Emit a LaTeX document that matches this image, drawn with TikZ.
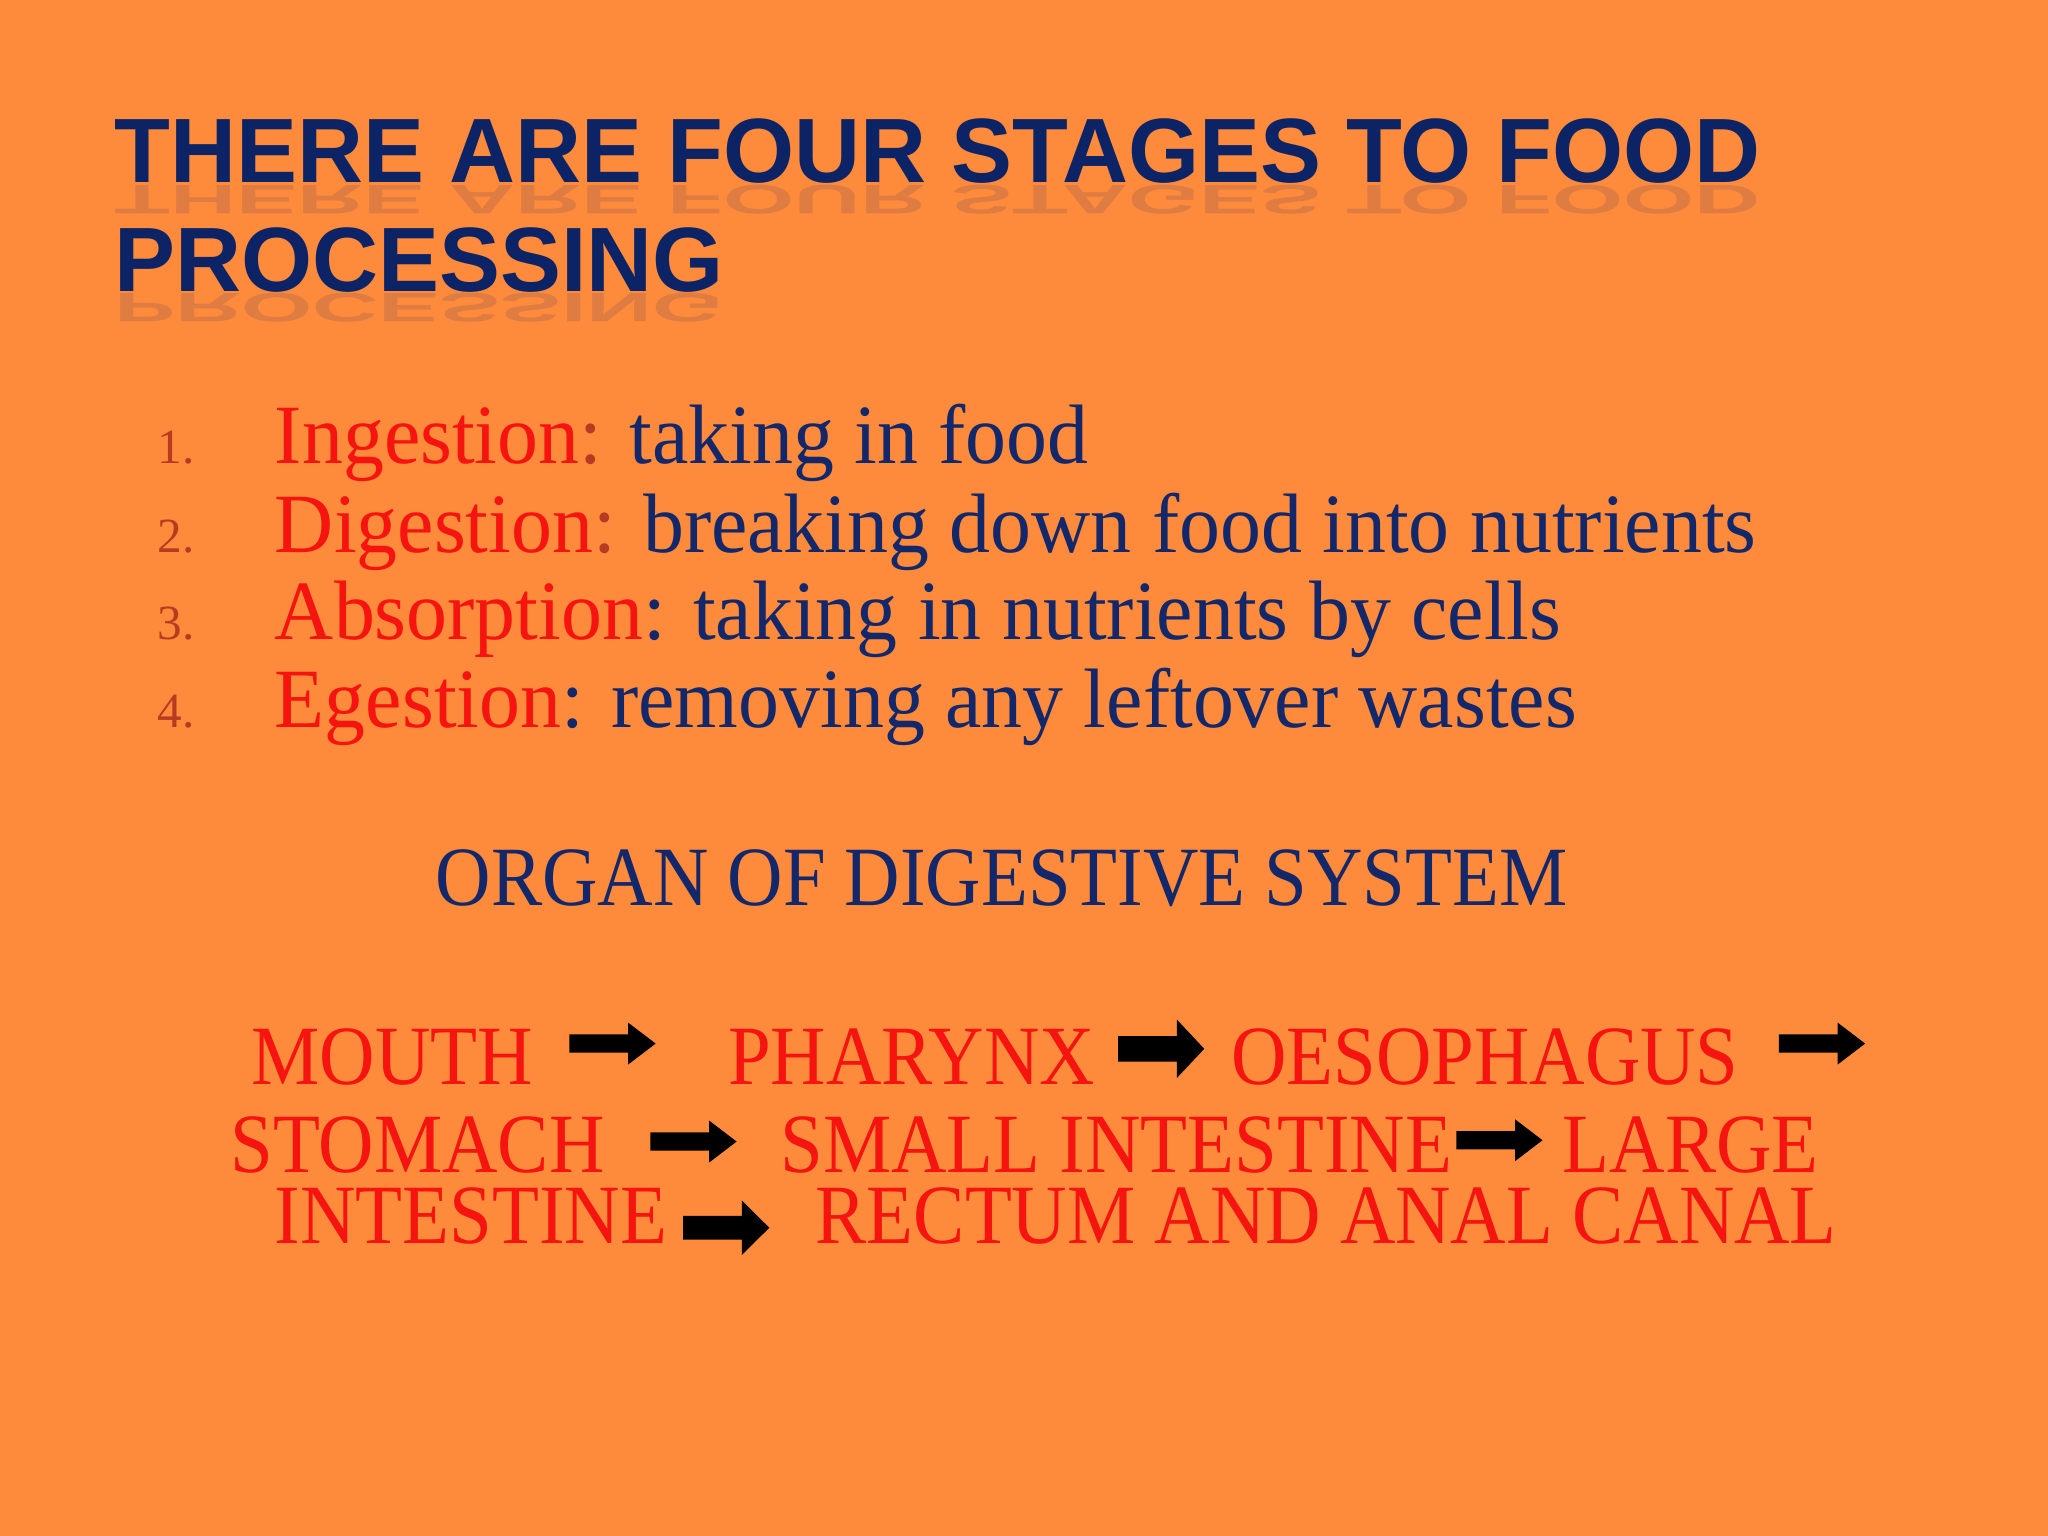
\documentclass[tikz,border=0pt]{standalone}
\usepackage{fontspec}
\setmainfont{Liberation Serif}
\newfontfamily\capser[FakeStretch=0.91]{Liberation Serif}
\newfontfamily\itemser[FakeStretch=0.97]{Liberation Serif}
\newfontfamily\titlefont{Liberation Sans}
\definecolor{bg}{HTML}{FE8A3C}
\definecolor{navy}{HTML}{13286A}
\definecolor{tnavy}{HTML}{0C2466}
\definecolor{myred}{HTML}{F5140F}
\definecolor{numc}{HTML}{B83A20}
\tikzset{
  ttl/.style={anchor=base west,inner sep=0,text=tnavy,font=\titlefont\bfseries\fontsize{26}{26}\selectfont},
  refl/.style={anchor=base west,inner sep=0,text=tnavy,opacity=0.13,yscale=-0.45,transform shape,font=\titlefont\bfseries\fontsize{26}{26}\selectfont},
  num/.style={anchor=base west,inner sep=0,text=numc,font=\fontsize{14}{14}\selectfont},
  item/.style={anchor=base west,inner sep=0,text=navy,font=\itemser\fontsize{24}{24}\selectfont},
  flow/.style={anchor=base west,inner sep=0,text=myred,font=\capser\fontsize{24}{24}\selectfont},
  blkarrow/.pic={\fill[black] (-33,-7) -- (12,-7) -- (12,-16) -- (33,0) -- (12,16) -- (12,7) -- (-33,7) -- cycle;}
}
\begin{document}
\begin{tikzpicture}[x=0.013061cm,y=-0.013061cm]
\fill[bg] (0,0) rectangle (1568,1176);
\useasboundingbox (0,0) rectangle (1568,1176);
% title
\node[ttl] (t1) at (87,140) {THERE ARE FOUR STAGES TO FOOD};
\node[ttl] (t2) at (87,223) {PROCESSING};
\node[refl] (r1) at (87,142) {THERE ARE FOUR STAGES TO FOOD};
\node[refl] (r2) at (87,225) {PROCESSING};
% list
\node[num] (n1) at (120,355) {1.};
\node[num] (n2) at (120,423) {2.};
\node[num] (n3) at (120,490) {3.};
\node[num] (n4) at (120,557) {4.};
\node[item] (i1) at (210,355) {\textcolor{myred}{Ingestion}\textcolor{numc}{:} taking in food};
\node[item] (i2) at (210,423) {\textcolor{myred}{Digestion}\textcolor{numc}{:} breaking down food into nutrients};
\node[item] (i3) at (210,490) {\textcolor{myred}{Absorption}: taking in nutrients by cells};
\node[item] (i4) at (210,557) {\textcolor{myred}{Egestion}: removing any leftover wastes};
\node[flow,text=navy] (org) at (333,693) {ORGAN OF DIGESTIVE SYSTEM};
% flow
\node[flow] (m) at (192,830) {MOUTH};
\node[flow] (p) at (557,830) {PHARYNX};
\node[flow] (o) at (942,830) {OESOPHAGUS};
\node[flow] (s) at (176,898) {STOMACH};
\node[flow] (si) at (597,898) {SMALL INTESTINE};
\node[flow] (l) at (1196,898) {LARGE};
\node[flow] (li) at (210,952) {INTESTINE};
\node[flow] (r) at (624,952) {RECTUM AND ANAL CANAL};
% arrows
\pic at (469,799) {blkarrow};
\pic[yscale=1.4] at (889,803) {blkarrow};
\pic at (1395,799) {blkarrow};
\pic at (531,874) {blkarrow};
\pic at (1148,873) {blkarrow};
\pic[yscale=1.3] at (556,940) {blkarrow};
\end{tikzpicture}
\end{document}
